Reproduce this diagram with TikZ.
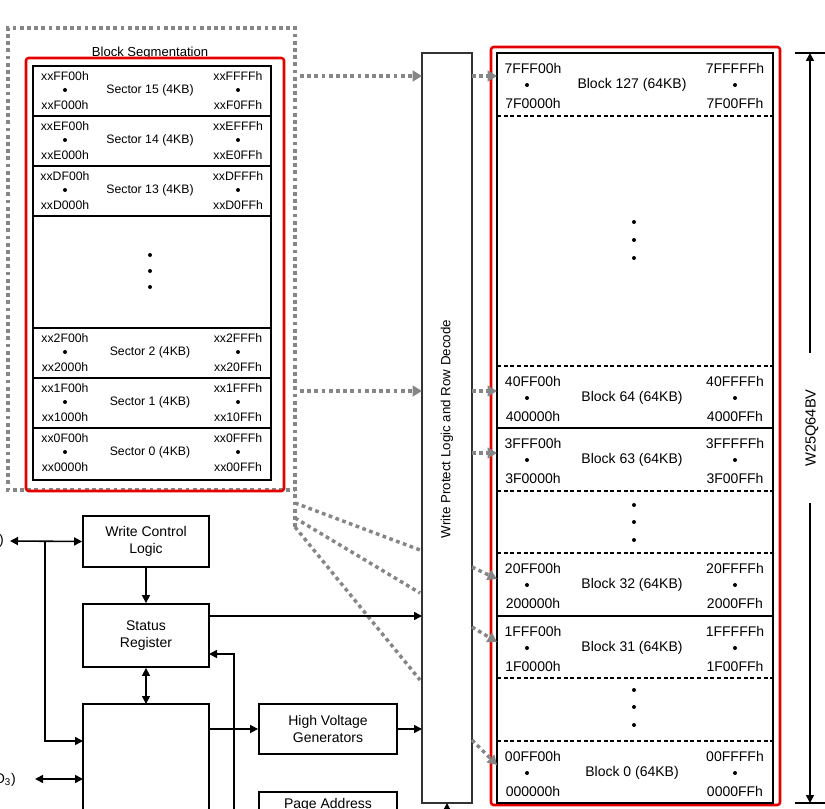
\documentclass[tikz,border=0pt]{standalone}
\usepackage{fontspec}
\setmainfont{Liberation Sans}
\usetikzlibrary{arrows.meta}
\begin{document}
\begin{tikzpicture}[x=0.75pt,y=-0.75pt,
  gdot/.style={draw=gray!95,line width=2.6pt,dash pattern=on 2.8pt off 2.6pt},
  garr/.style={gdot,-{Triangle[length=7pt,width=8pt,fill=gray!95]}},
  redb/.style={draw=red!90!black,line width=1.9pt,rounded corners=2pt},
  blk/.style={draw=black,line width=1.4pt},
  box/.style={draw=black,line width=1.4pt,align=center,font=\fontsize{10.5}{12.5}\selectfont,inner sep=0pt},
  arr/.style={line width=1.2pt,-{Triangle[length=6pt,width=6pt]}},
  darr/.style={line width=1.2pt,{Triangle[length=6pt,width=6pt]}-{Triangle[length=6pt,width=6pt]}},
  st/.style={font=\fontsize{9.2}{10}\selectfont,inner sep=0pt},
  bt/.style={font=\fontsize{10.5}{12}\selectfont,inner sep=0pt},
  dt/.style={circle,fill=black,inner sep=0pt,minimum size=3pt}]
\useasboundingbox (0,0) rectangle (825,809);
% grey dotted segmentation box
\draw[gdot] (295,527) -- (295,28) -- (8,28) -- (8,490) -- (295,490);
\node[st,font=\fontsize{9.8}{11}\selectfont] (bseg) at (150,53) {Block Segmentation};
\draw[redb] (26,58) rectangle (284,491);
\draw[blk] (33,66) rectangle (271,480);
\foreach \y in {116,166,216,328,378,428} \draw[line width=1.2pt] (33,\y) -- (271,\y);
% sectors
\newcommand\sect[5]{%
  \node[st] at (65,#1+10) {#2F00h};
  \node[dt] at (65,#1+24) {};
  \node[st] at (65,#1+39) {#3000h};
  \node[st] at (238,#1+10) {#2FFFh};
  \node[dt] at (238,#1+24) {};
  \node[st] at (238,#1+39) {#30FFh};
  \node[st] at (150,#1+24) {Sector #4 (4KB)};}
\sect{66}{xxF}{xxF}{15}{}
\sect{116}{xxE}{xxE}{14}{}
\sect{166}{xxD}{xxD}{13}{}
\sect{328}{xx2}{xx2}{2}{}
\sect{378}{xx1}{xx1}{1}{}
\sect{428}{xx0}{xx0}{0}{}
\foreach \y in {255,271,287} \node[dt] at (150,\y) {};
% write protect box
\node[draw=black!80,line width=0.8pt,minimum width=50*0.75pt,minimum height=750*0.75pt,inner sep=0pt] (wp) at (447,428) {};
\node[rotate=90,font=\fontsize{10}{12}\selectfont] at (447,429) {Write Protect Logic and Row Decode};
% right memory box
\draw[redb] (491,47) rectangle (780,805);
\draw[blk] (497,53) rectangle (773,803);
\foreach \y in {116,366,491,553,678,741} \draw[line width=0.8pt,dash pattern=on 3pt off 2pt] (497,\y) -- (773,\y);
\foreach \y in {428,616} \draw[line width=1.2pt] (497,\y) -- (773,\y);
\newcommand\blkk[4]{%
  \node[bt] at (533,#1+15) {#2FF00h};
  \node[dt] at (527,#1+32) {};
  \node[bt] at (533,#1+50) {#20000h};
  \node[bt] at (735,#1+15) {#2FFFFh};
  \node[dt] at (735,#1+32) {};
  \node[bt] at (735,#1+50) {#200FFh};
  \node[bt] at (632,#1+32) {Block #3 (64KB)};}
\blkk{53}{7F}{127}{}
\blkk{366}{40}{64}{}
\blkk{428}{3F}{63}{}
\blkk{553}{20}{32}{}
\blkk{616}{1F}{31}{}
\blkk{741}{00}{0}{}
\foreach \y in {222,240,258,505,522,540,690,707,725} \node[dt] at (634,\y) {};
% dimension
\draw[line width=0.9pt] (795,53) -- (825,53) (795,803) -- (825,803);
\node[rotate=90,font=\fontsize{11}{13}\selectfont] (dev) at (812,428) {W25Q64BV};
\draw[arr] (810,353) -- (810,53);
\draw[arr] (810,503) -- (810,803);
% grey arrows
\draw[garr] (300,76) -- (422,76);
\draw[garr] (300,391) -- (422,391);
\draw[garr] (472,76) -- (497,76);
\draw[garr] (472,391) -- (497,391);
\draw[garr] (472,453) -- (497,453);
\draw[garr] (472,567) -- (497,579);
\draw[garr] (472,627) -- (497,642);
\draw[garr] (472,740) -- (497,765);
\draw[gdot] (295,503) -- (420,550);
\draw[gdot] (295,518) -- (420,593);
\draw[gdot] (295,527) -- (420,680);
% control blocks
\node[box,minimum width=126*0.75pt,minimum height=51*0.75pt] (wcl) at (146,541.5) {Write Control\\Logic};
\node[box,minimum width=126*0.75pt,minimum height=63*0.75pt] (sr) at (146,635.5) {Status\\Register};
\draw[blk] (83,830) -- (83,704) -- (209,704) -- (209,830);
\coordinate (big) at (146,704);
\node[box,minimum width=138*0.75pt,minimum height=50*0.75pt] (hvg) at (328,729) {High Voltage\\Generators};
\draw[blk] (259,830) -- (259,792) -- (397,792) -- (397,830);
\node[bt,anchor=north] (pa) at (328,798) {Page Address};
\node[bt,anchor=east] (l1) at (4,541) {)};
\node[bt,anchor=east] (l2) at (16,780) {O\textsubscript{3})};
\draw[darr] (10,541) -- (wcl.west);
\draw[arr] (45,541) -- (45,741) -- (83,741);
\draw[darr] (35,779) -- (83,779);
\draw[arr] (wcl.south) -- (sr.north);
\draw[darr] (sr.south) -- (big);
\draw[arr] (209,616) -- (422,616);
\draw[arr] (234,830) -- (234,654) -- (209,654);
\draw[arr] (209,729) -- (hvg.west);
\draw[arr] (hvg.east) -- (422,729);
\draw[arr] (447,830) -- (447,803);
\end{tikzpicture}
\end{document}
